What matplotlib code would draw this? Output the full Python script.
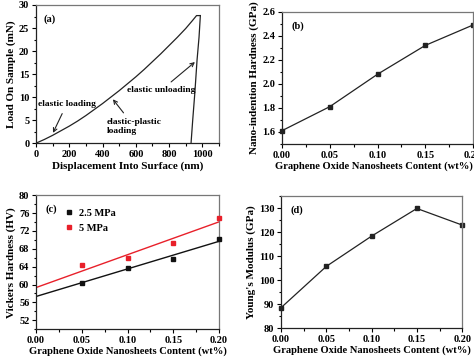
import matplotlib
matplotlib.use("Agg")
import matplotlib.pyplot as plt
import numpy as np
from matplotlib.ticker import MultipleLocator

plt.rcParams["font.family"] = "Liberation Serif"
plt.rcParams["font.weight"] = "bold"
plt.rcParams["axes.labelweight"] = "bold"

# (a) load-displacement curve
load_x = [0, 50, 100, 150, 200, 250, 300, 350, 400, 450, 500, 550, 600,
          650, 700, 750, 800, 850, 900, 940, 965, 988]
load_y = [0, 0.8, 1.7, 2.7, 3.7, 4.8, 6.0, 7.3, 8.6, 10.0, 11.4, 12.9, 14.4,
          16.0, 17.7, 19.4, 21.2, 23.0, 24.9, 26.6, 27.7, 27.7]
unload_x = [988, 980, 968, 955, 942, 932]
unload_y = [27.7, 23.0, 18.0, 11.0, 5.0, 0.0]

# (b)-(d) vs graphene oxide content
go_content = [0.0, 0.05, 0.10, 0.15, 0.20]
nano_hardness = [1.61, 1.81, 2.08, 2.32, 2.49]
vickers_25 = [57.5, 60.3, 63.7, 65.8, 70.2]
vickers_5 = [59.0, 64.3, 65.9, 69.3, 74.9]
youngs_modulus = [88.5, 105.7, 118.3, 129.8, 122.9]

xlabel_go = "Graphene Oxide Nanosheets Content (wt%)"
tick_fs = 7.5
label_fs = 8
go_fs = 7.6


def style_axes(ax):
    ax.tick_params(which="both", direction="out", top=False, right=False,
                   labelsize=tick_fs, width=0.8, pad=1.8)
    ax.tick_params(which="major", length=3)
    ax.tick_params(which="minor", length=1.8)
    for s in ["top", "right"]:
        ax.spines[s].set_color("#777777")
    for s in ["left", "bottom"]:
        ax.spines[s].set_color("#222222")
    for s in ax.spines.values():
        s.set_linewidth(0.9)


fig = plt.figure(figsize=(4.74, 3.57), dpi=100)

# ---- (a)
ax = fig.add_axes([0.076, 0.599, 0.386, 0.387])
ax.plot(load_x, load_y, color="#222222", lw=0.9)
ax.plot(unload_x, unload_y, color="#222222", lw=0.9)
ax.set_xlim(0, 1100)
ax.set_ylim(0, 30)
ax.xaxis.set_major_locator(MultipleLocator(200))
ax.xaxis.set_minor_locator(MultipleLocator(100))
ax.yaxis.set_major_locator(MultipleLocator(5))
ax.yaxis.set_minor_locator(MultipleLocator(2.5))
ax.set_xlabel("Displacement Into Surface (nm)", fontsize=label_fs, labelpad=2)
ax.set_ylabel("Load On Sample (mN)", fontsize=label_fs, labelpad=2)
ax.text(0.04, 0.93, "(a)", transform=ax.transAxes, fontsize=7.5, va="top")
arrow = dict(arrowstyle="->", color="#222222", lw=0.8)
ax.annotate("elastic loading", xy=(95, 1.7), xytext=(10, 8.0),
            fontsize=6.8, arrowprops=arrow)
ax.annotate("elastic-plastic\nloading", xy=(452, 10), xytext=(425, 2.2),
            fontsize=6.8, arrowprops=arrow, linespacing=1.2)
ax.annotate("elastic unloading", xy=(968, 18), xytext=(545, 11),
            fontsize=6.8, arrowprops=arrow)
style_axes(ax)

# ---- (b)
ax = fig.add_axes([0.595, 0.597, 0.403, 0.370])
ax.plot(go_content, nano_hardness, color="#222222", lw=0.9, marker="s", ms=2.3,
        clip_on=False)
ax.set_xlim(0, 0.2)
ax.set_ylim(1.5, 2.6)
ax.xaxis.set_major_locator(MultipleLocator(0.05))
ax.xaxis.set_minor_locator(MultipleLocator(0.025))
ax.yaxis.set_major_locator(MultipleLocator(0.2))
ax.yaxis.set_minor_locator(MultipleLocator(0.1))
ax.xaxis.set_major_formatter(lambda v, p: f"{v:.2f}")
ax.yaxis.set_major_formatter(lambda v, p: f"{v:.1f}")
ax.set_xlabel(xlabel_go, fontsize=go_fs, labelpad=1, loc="right")
ax.set_ylabel("Nano-indention Hardness (GPa)", fontsize=label_fs, labelpad=2)
ax.text(0.05, 0.93, "(b)", transform=ax.transAxes, fontsize=7.5, va="top")
style_axes(ax)

# ---- (c)
ax = fig.add_axes([0.076, 0.078, 0.386, 0.375])
x = np.array(go_content)
for vals, col, lab in [(vickers_25, "#111111", "2.5 MPa"),
                       (vickers_5, "#e8202a", "5 MPa")]:
    k, b = np.polyfit(x, vals, 1)
    ax.plot(x[1:], np.array(vals)[1:], ls="none", marker="s", ms=2.4,
            color=col, label=lab, clip_on=False, zorder=3)
    ax.plot([0, 0.2], [b, b + k * 0.2], color=col, lw=1.0)
ax.set_xlim(0, 0.2)
ax.set_ylim(50, 80)
ax.xaxis.set_major_locator(MultipleLocator(0.05))
ax.xaxis.set_minor_locator(MultipleLocator(0.025))
ax.set_yticks(np.arange(52, 81, 4))
ax.yaxis.set_minor_locator(MultipleLocator(2))
ax.xaxis.set_major_formatter(lambda v, p: f"{v:.2f}")
ax.set_xlabel(xlabel_go, fontsize=go_fs, labelpad=1)
ax.set_ylabel("Vickers Hardness (HV)", fontsize=label_fs, labelpad=2)
ax.text(0.05, 0.93, "(c)", transform=ax.transAxes, fontsize=7.5, va="top")
ax.legend(loc="upper left", bbox_to_anchor=(0.14, 0.93), frameon=False,
          fontsize=7.5, handlelength=0.6, handletextpad=0.7,
          labelspacing=0.55, borderaxespad=0)
style_axes(ax)

# ---- (d)
ax = fig.add_axes([0.593, 0.081, 0.382, 0.370])
ax.plot(go_content, youngs_modulus, color="#222222", lw=0.9, marker="s", ms=2.3,
        clip_on=False)
ax.set_xlim(0, 0.2)
ax.set_ylim(80, 135)
ax.xaxis.set_major_locator(MultipleLocator(0.05))
ax.xaxis.set_minor_locator(MultipleLocator(0.025))
ax.set_yticks(np.arange(80, 131, 10))
ax.yaxis.set_minor_locator(MultipleLocator(5))
ax.xaxis.set_major_formatter(lambda v, p: f"{v:.2f}")
ax.set_xlabel(xlabel_go, fontsize=go_fs, labelpad=1)
ax.set_ylabel("Young's Modulus (GPa)", fontsize=label_fs, labelpad=2)
ax.text(0.05, 0.93, "(d)", transform=ax.transAxes, fontsize=7.5, va="top")
style_axes(ax)

fig.savefig("out.png", dpi=100)
